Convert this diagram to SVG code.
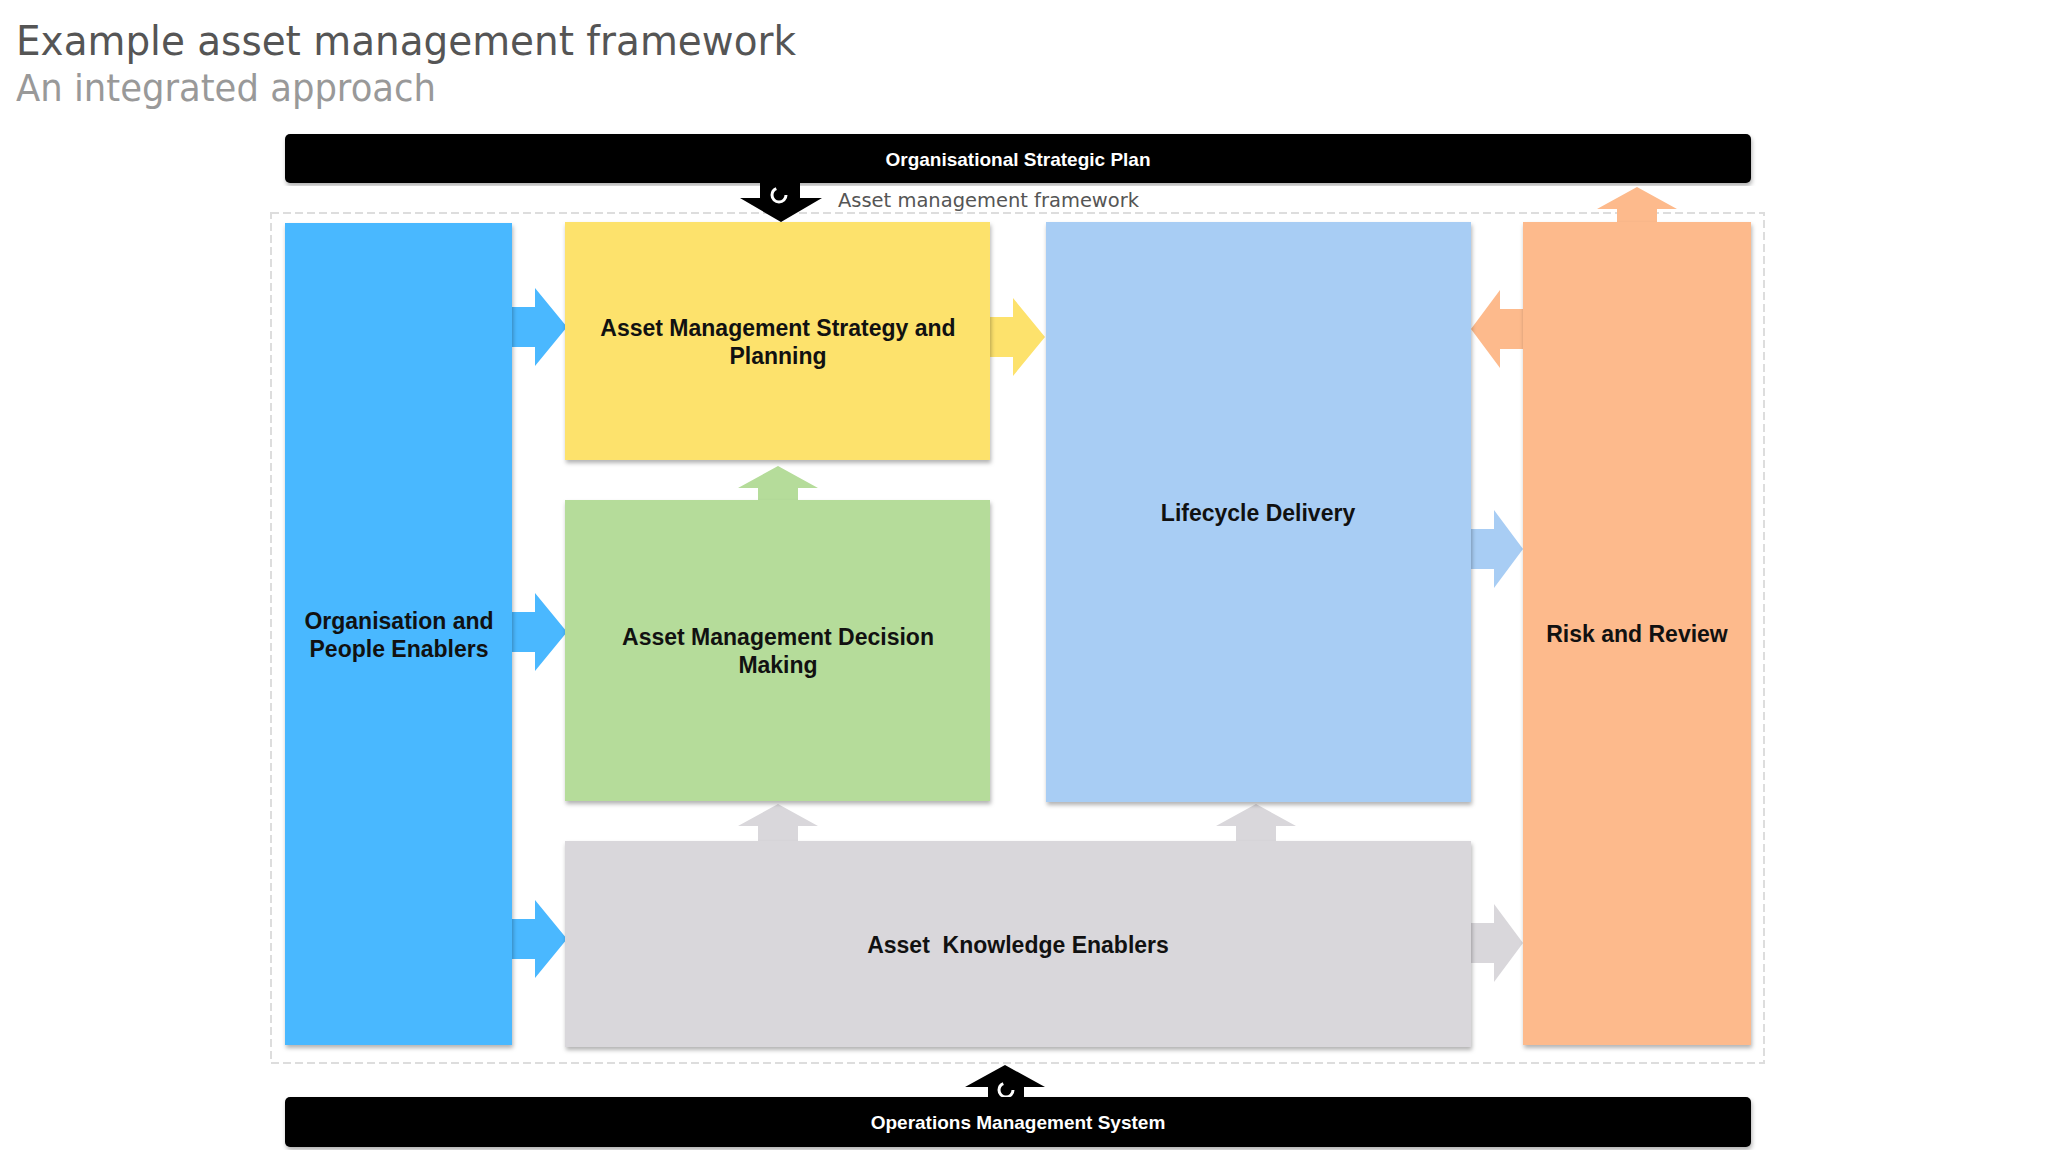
<svg xmlns="http://www.w3.org/2000/svg" width="2048" height="1152" viewBox="0 0 2048 1152">
<defs>
<filter id="sh" x="-5%" y="-5%" width="110%" height="110%"><feDropShadow dx="1" dy="3" stdDeviation="2" flood-color="#000" flood-opacity="0.3"/></filter>
</defs>
<style>
.lbl{font-family:"Liberation Sans",Arial,sans-serif;font-weight:bold;font-size:23px;fill:#111;text-anchor:middle}
.bar{font-family:"Liberation Sans",Arial,sans-serif;font-weight:bold;font-size:19px;fill:#fff;text-anchor:middle}
</style>
<rect width="2048" height="1152" fill="#fff"/>
<text x="16" y="55" font-family="DejaVu Sans, sans-serif" font-size="40" fill="#555" textLength="780" lengthAdjust="spacingAndGlyphs">Example asset management framework</text>
<text x="16" y="101" font-family="DejaVu Sans, sans-serif" font-size="38" fill="#999" textLength="420" lengthAdjust="spacingAndGlyphs">An integrated approach</text>
<rect x="271" y="213" width="1493" height="850" fill="none" stroke="#ddd" stroke-width="2" stroke-dasharray="8,4"/>
<text x="838" y="207" font-family="DejaVu Sans, sans-serif" font-size="20" fill="#555" textLength="301" lengthAdjust="spacingAndGlyphs">Asset management framework</text>
<g id="connectors">
<polygon points="512,307 535,307 535,288 567,327 535,366 535,347 512,347" fill="#4ab8ff"/>
<polygon points="512,612 535,612 535,593 567,632 535,671 535,652 512,652" fill="#4ab8ff"/>
<polygon points="512,919 535,919 535,900 567,939 535,978 535,959 512,959" fill="#4ab8ff"/>
<polygon points="990,317 1013,317 1013,298 1045,337 1013,376 1013,357 990,357" fill="#fde26c"/>
<polygon points="1523,309 1500,309 1500,290 1471,329 1500,368 1500,349 1523,349" fill="#fdba8c"/>
<polygon points="1471,529 1494,529 1494,510 1523,549 1494,588 1494,569 1471,569" fill="#a8cdf4"/>
<polygon points="1471,923 1494,923 1494,904 1523,943 1494,982 1494,963 1471,963" fill="#d9d7db"/>
<polygon points="758,500 758,488 738,488 778,466 818,488 798,488 798,500" fill="#b5dc9a"/>
<polygon points="758,841 758,826 738,826 778,804 818,826 798,826 798,841" fill="#d9d7db"/>
<polygon points="1236,841 1236,826 1216,826 1256,804 1296,826 1276,826 1276,841" fill="#d9d7db"/>
<polygon points="1617,222 1617,209 1597,209 1637,187 1677,209 1657,209 1657,222" fill="#fdba8c"/>
<polygon points="760,183 800,183 800,198 822,198 781,222 740,198 760,198" fill="#000"/>
<circle cx="779" cy="195" r="7" fill="none" stroke="#fff" stroke-width="3" stroke-dasharray="30,14"/>
<polygon points="988,1097 988,1087 965,1087 1005,1065 1045,1087 1024,1087 1024,1097" fill="#000"/>
<circle cx="1006" cy="1090" r="7" fill="none" stroke="#fff" stroke-width="3" stroke-dasharray="30,14"/>
</g>
<g id="plan"><rect x="285" y="134" width="1466" height="49" rx="5" fill="#000" filter="url(#sh)"/><text class="bar" x="1018" y="166">Organisational Strategic Plan</text></g>
<g id="ops"><rect x="285" y="1097" width="1466" height="50" rx="5" fill="#000" filter="url(#sh)"/><text class="bar" x="1018" y="1129">Operations Management System</text></g>
<g id="people"><rect x="285" y="223" width="227" height="822" fill="#4ab8ff" filter="url(#sh)"/><text class="lbl" x="399" y="629">Organisation and</text><text class="lbl" x="399" y="657">People Enablers</text></g>
<g id="strategy"><rect x="565" y="222" width="425" height="238" fill="#fde26c" filter="url(#sh)"/><text class="lbl" x="778" y="336">Asset Management Strategy and</text><text class="lbl" x="778" y="364">Planning</text></g>
<g id="decision"><rect x="565" y="500" width="425" height="301" fill="#b5dc9a" filter="url(#sh)"/><text class="lbl" x="778" y="645">Asset Management Decision</text><text class="lbl" x="778" y="673">Making</text></g>
<g id="lifecycle"><rect x="1046" y="222" width="425" height="580" fill="#a8cdf4" filter="url(#sh)"/><text class="lbl" x="1258" y="521">Lifecycle Delivery</text></g>
<g id="knowledge"><rect x="565" y="841" width="906" height="206" fill="#d9d7db" filter="url(#sh)"/><text class="lbl" x="1018" y="953" xml:space="preserve">Asset  Knowledge Enablers</text></g>
<g id="risk"><rect x="1523" y="222" width="228" height="823" fill="#fdba8c" filter="url(#sh)"/><text class="lbl" x="1637" y="642">Risk and Review</text></g>
</svg>
